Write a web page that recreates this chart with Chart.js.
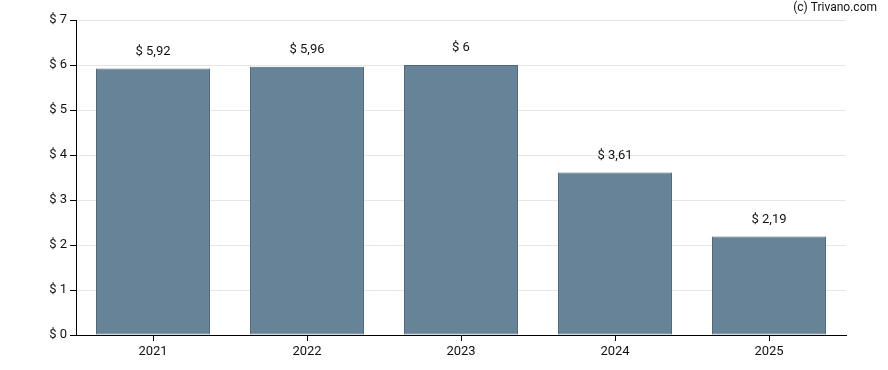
<!DOCTYPE html>
<html>
<head>
<meta charset="utf-8">
<script src="https://cdn.jsdelivr.net/npm/chart.js@4/dist/chart.umd.min.js"></script>
<style>
  html, body { margin: 0; padding: 0; background: #fff; }
  #wrap { width: 888px; height: 370px; }
</style>
</head>
<body>
<div id="wrap"><canvas id="chart" width="888" height="370"></canvas></div>
<script>
// chart data
const years = ['2021', '2022', '2023', '2024', '2025'];
const values = [5.92, 5.96, 6, 3.61, 2.19];
const yTicks = [0, 1, 2, 3, 4, 5, 6, 7];

const fmt = v => '$ ' + String(v).replace('.', ',');

// value labels above each bar + copyright note
const labelPlugin = {
    id: 'labels',
    afterDatasetsDraw(chart) {
        const ctx = chart.ctx;
        const meta = chart.getDatasetMeta(0);
        ctx.save();
        ctx.font = '13px Roboto';
        ctx.fillStyle = '#111';
        ctx.textAlign = 'center';
        ctx.textBaseline = 'middle';
        meta.data.forEach((bar, i) => {
            ctx.fillText(fmt(values[i]), bar.x, bar.y - 17);
        });
        ctx.font = '12px Roboto';
        ctx.textAlign = 'right';
        ctx.fillText('(c) Trivano.com', 877, 8);
        ctx.restore();
    }
};

new Chart(document.getElementById('chart').getContext('2d'), {
    type: 'bar',
    data: {
        labels: years,
        datasets: [{
            data: values,
            backgroundColor: '#668397',
            borderColor: '#4b677c',
            borderWidth: 1,
            borderSkipped: false,
            barPercentage: 0.74,
            categoryPercentage: 1
        }]
    },
    options: {
        responsive: false,
        animation: false,
        layout: { padding: { left: 0, right: 42, top: 20, bottom: 0 } },
        plugins: { legend: { display: false }, tooltip: { enabled: false } },
        scales: {
            x: {
                grid: { offset: false, drawOnChartArea: false, color: '#000', tickLength: 6 },
                border: { color: '#000', width: 1 },
                ticks: { color: '#111', font: { family: 'Roboto', size: 13 }, padding: 3 },
                afterFit(scale) { scale.height = 35; }
            },
            y: {
                min: 0,
                max: 7,
                afterBuildTicks(scale) { scale.ticks = yTicks.map(v => ({ value: v })); },
                grid: { color: '#e6e6e6', tickColor: '#000', tickLength: 6 },
                border: { color: '#000', width: 1 },
                ticks: { color: '#111', font: { family: 'Roboto', size: 13 }, padding: 3, callback: v => '$ ' + v },
                afterFit(scale) { scale.width = 76; }
            }
        }
    },
    plugins: [labelPlugin]
});
</script>
</body>
</html>
